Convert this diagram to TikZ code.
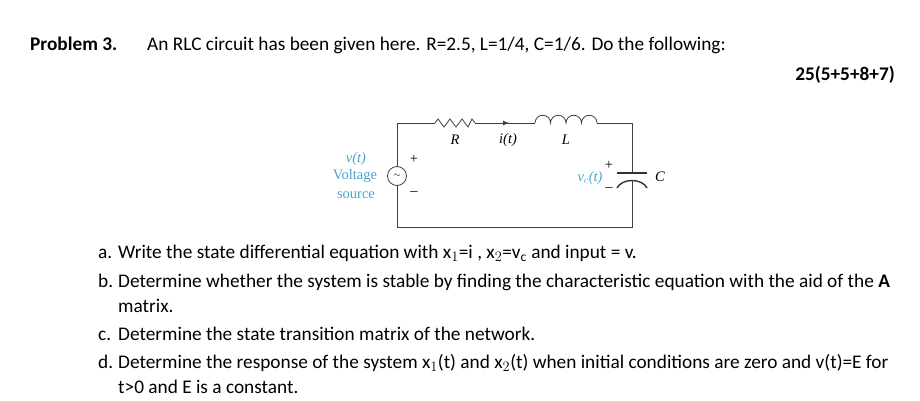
\documentclass[tikz,border=0pt]{standalone}
\usepackage{fontspec}
\setmainfont{Carlito}
\newfontfamily\tms{Liberation Serif}
\usetikzlibrary{decorations.pathmorphing,arrows.meta}
\definecolor{lblue}{RGB}{70,165,205}
\begin{document}
\begin{tikzpicture}[x=1pt,y=-1pt,
  txt/.style={anchor=base west,inner sep=0,font=\fontsize{19.3}{22}\selectfont},
  cl/.style={inner sep=0,font=\tms\fontsize{14.5}{15}\selectfont},
  cli/.style={inner sep=0,font=\tms\itshape\fontsize{14.5}{15}\selectfont},
  wire/.style={line width=0.8pt,draw=black!75}]
\useasboundingbox (0,0) rectangle (920,401);
\node[txt,font=\bfseries\fontsize{19.3}{22}\selectfont] (p) at (30,51) {Problem 3.};
\node[txt] (t) at (147,51) {An RLC circuit has been given here. R=2.5, L=1/4, C=1/6. Do the following:};
\node[txt,anchor=base east,font=\bfseries\fontsize{19.3}{22}\selectfont] (s) at (895,81) {25(5+5+8+7)};
% circuit
\coordinate (tl) at (397,123); \coordinate (tr) at (632,123);
\coordinate (bl) at (397,227); \coordinate (br) at (632,227);
\node[circle,draw=black!75,line width=0.8pt,minimum size=19pt,inner sep=0] (src) at (397,176) {};
\node[font=\fontsize{9}{9}\selectfont,inner sep=0] (tilde) at (src) {$\sim$};
\coordinate (r1) at (435,123); \coordinate (r2) at (475,123);
\coordinate (l1) at (535,123); \coordinate (l2) at (597,123);
\coordinate (c1) at (632,173); \coordinate (c2) at (632,180);
\draw[wire] (src.north) -- (tl) -- (r1);
\draw[wire] (r1) -- (438,119) -- (444,127) -- (450,119) -- (456,127) -- (462,119) -- (468,127) -- (472,119) -- (r2);
\draw[wire] (r2) -- (l1);
\draw[wire,-{Latex[length=6pt,width=5pt]}] (r2) -- (509,123);
\draw[wire] (l1) arc[start angle=180,end angle=360,radius=7.75] arc[start angle=180,end angle=360,radius=7.75] arc[start angle=180,end angle=360,radius=7.75] arc[start angle=180,end angle=360,radius=7.75];
\draw[wire] (l2) -- (tr) -- (c1);
\draw[line width=1.4pt,draw=black!80] (617,173) -- (647,173);
\draw[line width=1.4pt,draw=black!80] (617,188) .. controls (622,178) and (642,178) .. (647,188);
\draw[wire] (c2) -- (br) -- (bl) -- (src.south);
\node[cli] (R) at (455,140) {R};
\node[cli] (i) at (508,140) {i(t)};
\node[cli] (L) at (566,140) {L};
\node[cli] (C) at (660,177) {C};
\node[cl] (p1) at (414,159) {+};
\node[cl] (m1) at (414,194) {–};
\node[cl] (p2) at (609,165) {+};
\node[cl] (m2) at (609,190) {–};
\node[cli,text=lblue] (vt) at (356,159) {v(t)};
\node[cl,text=lblue] (vo) at (355,176) {Voltage};
\node[cl,text=lblue] (so) at (356,195) {source};
\node[cli,text=lblue] (vc) at (590,178) {v$_c$(t)};
% list
\node[txt] (a) at (98,258) {a.};
\node[txt] (at) at (118,258) {Write the state differential equation with x$_1$=i , x$_2$=v$_\mathrm{c}$ and input = v.};
\node[txt] (b) at (98,287) {b.};
\node[txt] (bt) at (118,287) {Determine whether the system is stable by finding the characteristic equation with the aid of the \textbf{A}};
\node[txt] (b2) at (118,312) {matrix.};
\node[txt] (c) at (98,340) {c.};
\node[txt] (ct) at (118,340) {Determine the state transition matrix of the network.};
\node[txt] (d) at (98,368) {d.};
\node[txt] (dt) at (118,368) {Determine the response of the system x$_1$(t) and x$_2$(t) when initial conditions are zero and v(t)=E for};
\node[txt] (d2) at (118,393) {t>0 and E is a constant.};
\end{tikzpicture}
\end{document}
